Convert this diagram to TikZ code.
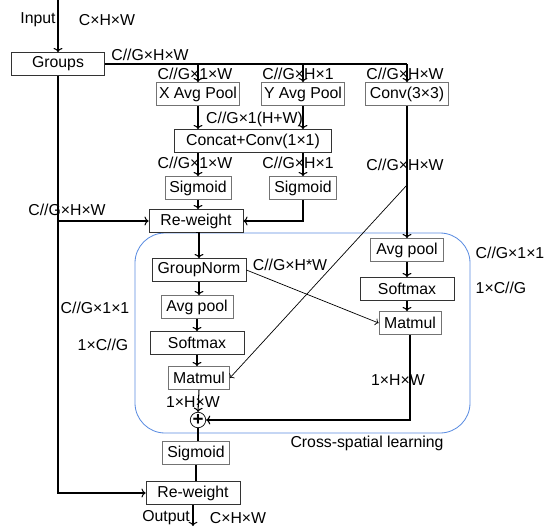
\documentclass[tikz,border=0pt]{standalone}
\usepackage{fontspec}
\setmainfont{Liberation Sans}
\usetikzlibrary{positioning,calc,arrows.meta,shapes}
\definecolor{crossblue}{RGB}{90,140,225}

\begin{document}
\begin{tikzpicture}[x=0.03cm,y=-0.03cm,
    font=\fontsize{13.5}{15}\selectfont,
    box/.style={draw=black!80,line width=0.6pt,minimum height=0.69cm,inner sep=0pt},
    gbox/.style={draw=black!55,line width=0.6pt,minimum height=0.69cm,inner sep=0pt},
    lbl/.style={inner sep=0pt},
    conn/.style={line width=0.9pt}]

        \useasboundingbox (0,0) rectangle (550,529);

        % Cross-spatial learning region
        \draw[crossblue,line width=0.7pt,rounded corners=0.9cm] (135,233) rectangle (470,433);
        \node[lbl] (cslabel) at (367,443) {Cross-spatial learning};

        % Boxes
        \node[box,minimum width=2.79cm] (grp) at (58,64) {Groups};
        \node[gbox,minimum width=2.49cm] (xpool) at (198,94) {X Avg Pool};
        \node[gbox,minimum width=2.49cm] (ypool) at (303,94) {Y Avg Pool};
        \node[gbox,minimum width=2.49cm] (conv) at (407,94) {Conv(3×3)};
        \node[box,minimum width=4.71cm] (cat) at (253,141) {Concat+Conv(1×1)};
        \node[gbox,minimum width=1.98cm] (sigx) at (198,188) {Sigmoid};
        \node[gbox,minimum width=2.0cm] (sigy) at (303,188) {Sigmoid};
        \node[box,minimum width=2.82cm] (rwa) at (196,221) {Re-weight};
        \node[box,minimum width=2.82cm] (gn) at (199,270) {GroupNorm};
        \node[gbox,minimum width=2.16cm] (apl) at (197,307) {Avg pool};
        \node[box,minimum width=2.82cm] (sml) at (197,343) {Softmax};
        \node[gbox,minimum width=1.83cm] (mml) at (199,378) {Matmul};
        \node[gbox,minimum width=2.19cm] (apr) at (407,250) {Avg pool};
        \node[box,minimum width=2.82cm] (smr) at (407,289) {Softmax};
        \node[gbox,minimum width=1.86cm] (mmr) at (410,323) {Matmul};
        \node[draw,circle,line width=0.6pt,minimum size=0.43cm,inner sep=0pt] (plus) at (198,420) {\fontsize{16}{16}\selectfont\textbf{+}};
        \node[gbox,minimum width=2.0cm] (sigo) at (196,453) {Sigmoid};
        \node[box,minimum width=2.82cm] (rwb) at (193,493) {Re-weight};

        % Free ends
        \coordinate (in) at (58,0);
        \coordinate (out) at (193,526);
        \coordinate (split) at (407,185);

        % Input and groups
        \draw[->,conn] (in) -- (grp.north);
        \draw[conn] (grp.east) -- (conv.north |- grp.east);
        \draw[->,conn] (xpool.north |- grp.east) -- (xpool.north);
        \draw[->,conn] (ypool.north |- grp.east) -- (ypool.north);
        \draw[->,conn] (conv.north |- grp.east) -- (conv.north);

        % Coordinate attention branch
        \draw[->,conn] (xpool.south) -- (xpool.south |- cat.north);
        \draw[->,conn] (ypool.south) -- (ypool.south |- cat.north);
        \draw[->,conn] (sigx.north |- cat.south) -- (sigx.north);
        \draw[->,conn] (sigy.north |- cat.south) -- (sigy.north);
        \draw[->,conn] (sigx.south) -- (sigx.south |- rwa.north);
        \draw[->,conn] (sigy.south) |- (rwa.east);
        \draw[->,conn] (grp.south) |- (rwb.west);
        \draw[->,conn] (grp.south |- rwa.west) -- (rwa.west);

        % Cross-spatial learning
        \draw[->,conn] (rwa.south) -- (rwa.south -| gn.north) -- (gn.north);
        \draw[->,conn] (gn.south) -- (gn.south |- apl.north);
        \draw[->,conn] (apl.south) -- (apl.south |- sml.north);
        \draw[->,conn] (sml.south) -- (sml.south |- mml.north);
        \draw[->,conn] (conv.south) -- (apr.north);
        \draw[->,conn] (apr.south) -- (smr.north);
        \draw[->,conn] (smr.south) -- (smr.south |- mmr.north);
        \draw[->,line width=0.6pt] (split) -- (mml.east);
        \draw[->,line width=0.6pt] (gn.east) -- (mmr.west);
        \draw[->,conn] (mmr.south) |- (plus.east);
        \draw[->,conn] (mml.south) -- (plus.north);

        % Output
        \draw[conn] (plus.south) -- (plus.south |- sigo.north);
        \draw[conn] (sigo.south) -- (sigo.south |- rwb.north);
        \draw[->,conn] (rwb.south) -- (out);

        % Shape labels
        \node[lbl] (lin) at (38,20) {Input};
        \node[lbl] (lins) at (107,20) {C×H×W};
        \node[lbl] (lgrp) at (150,55) {C//G×H×W};
        \node[lbl] (lx) at (195,74) {C//G×1×W};
        \node[lbl] (ly) at (298,74) {C//G×H×1};
        \node[lbl] (lconv) at (405,74) {C//G×H×W};
        \node[lbl,anchor=west] (lcat) at (206,119) {C//G×1(H+W)};
        \node[lbl] (lsx) at (195,163) {C//G×1×W};
        \node[lbl] (lsy) at (298,163) {C//G×H×1};
        \node[lbl] (lsplit) at (405,165) {C//G×H×W};
        \node[lbl] (lrw) at (67,210) {C//G×H×W};
        \node[lbl] (lgn) at (290,265) {C//G×H*W};
        \node[lbl] (lapl) at (95,308) {C//G×1×1};
        \node[lbl] (lsml) at (103,345) {1×C//G};
        \node[lbl] (lmml) at (193,402) {1×H×W};
        \node[lbl] (lapr) at (510,253) {C//G×1×1};
        \node[lbl] (lsmr) at (501,288) {1×C//G};
        \node[lbl] (lmmr) at (398,380) {1×H×W};
        \node[lbl] (lout) at (166,518) {Output};
        \node[lbl] (louts) at (238,518) {C×H×W};

\end{tikzpicture}
\end{document}
